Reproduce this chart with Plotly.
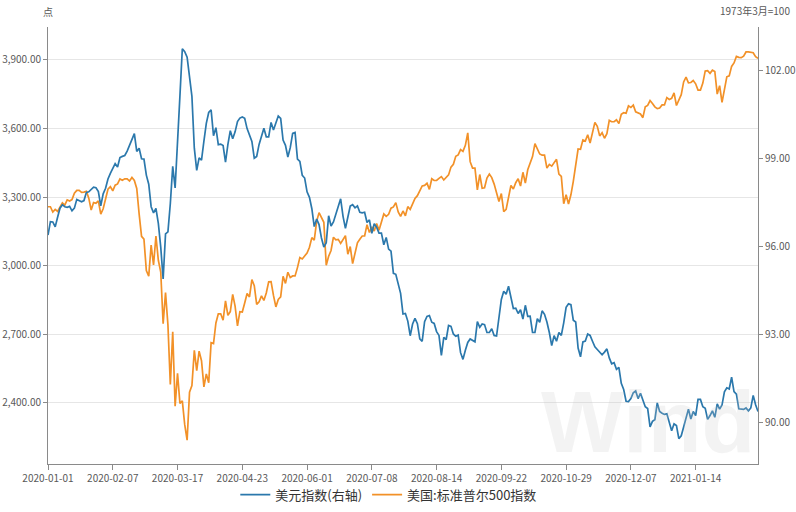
import pandas as pd
import plotly.graph_objects as go

# ---------------- data ----------------
# trading-day categories (weekdays; 2021-01-01 not in the source calendar)
DATES = (pd.bdate_range("2020-01-01", "2021-02-19")
         .drop(pd.Timestamp("2021-01-01"))
         .strftime("%Y-%m-%d").tolist())

TICK_LABELS = ["2020-01-01", "2020-02-07", "2020-03-17", "2020-04-23", "2020-06-01",
               "2020-07-08", "2020-08-14", "2020-09-22", "2020-10-29", "2020-12-07",
               "2021-01-14"]

SERIES_USD = "美元指数(右轴)"
SERIES_SPX = "美国:标准普尔500指数"

USD_INDEX = [
    # 2020-01
    96.39, 96.85, 96.84, 96.67, 97.00, 97.31, 97.43, 97.36, 97.34, 97.37, 97.22, 97.31,
    97.61, 97.56, 97.53, 97.57, 97.85, 97.87, 97.95, 98.03, 98.01, 97.88, 97.39,
    # 2020-02
    97.80, 97.99, 98.31, 98.50, 98.69, 98.83, 98.72, 99.04, 99.08, 99.11, 99.26, 99.46,
    99.72, 99.86, 99.25, 99.36, 99.00, 98.99, 98.44, 98.13,
    # 2020-03
    97.36, 97.15, 97.30, 96.79, 95.98, 94.89, 96.43, 96.50, 97.47, 98.74, 98.00, 99.79,
    101.15, 102.76, 102.66, 102.47, 101.89, 101.13, 99.36, 98.60, 99.03, 98.95,
    # 2020-04
    99.60, 100.21, 100.58, 100.67, 99.79, 100.06, 99.48, 99.50, 99.45, 98.88, 99.49, 99.96,
    99.68, 99.92, 100.27, 100.39, 100.43, 100.38, 100.03, 99.83, 99.59, 99.02,
    # 2020-05
    99.08, 99.49, 99.81, 100.04, 99.75, 99.75, 100.24, 99.98, 100.22, 100.46, 100.38, 99.64,
    99.46, 99.06, 99.38, 99.87, 99.90, 98.99, 98.91, 98.43, 98.34,
    # 2020-06
    97.87, 97.68, 97.29, 96.68, 96.94, 96.75, 96.29, 95.98, 96.13, 97.05, 96.70, 96.84,
    97.12, 97.42, 97.63, 97.03, 96.62, 97.00, 97.38, 97.43, 97.32, 97.39,
    # 2020-07
    97.17, 97.15, 97.17, 96.82, 96.91, 96.45, 96.78, 96.66, 96.46, 96.46, 96.06, 96.31,
    95.91, 95.84, 95.08, 95.05, 94.76, 94.40, 93.69, 93.71, 93.45, 92.95, 93.35,
    # 2020-08
    93.54, 93.36, 92.84, 92.76, 93.43, 93.61, 93.64, 93.41, 93.37, 93.09, 92.96, 92.28,
    92.89, 92.82, 93.30, 93.27, 93.01, 92.93, 92.97, 92.37, 92.14,
    # 2020-09
    92.45, 92.72, 92.84, 92.79, 92.74, 93.43, 93.24, 93.35, 93.33, 93.06, 93.06, 93.19,
    92.96, 92.94, 93.62, 94.19, 94.47, 94.37, 94.64, 94.29, 93.88, 93.89,
    # 2020-10
    93.71, 93.84, 93.52, 93.99, 93.61, 93.62, 93.06, 93.06, 93.53, 93.41, 93.80, 93.68,
    93.42, 93.06, 92.61, 92.95, 92.76, 93.06, 92.96, 93.39, 93.92, 94.04,
    # 2020-11
    94.01, 93.48, 93.42, 92.53, 92.23, 92.74, 92.77, 93.01, 92.96, 92.76, 92.57, 92.48,
    92.40, 92.30, 92.39, 92.50, 92.19, 91.99, 92.03, 91.80, 91.87,
    # 2020-12
    91.32, 91.11, 90.71, 90.70, 90.80, 91.00, 91.06, 90.80, 90.98, 90.75, 90.52, 90.46,
    89.83, 90.02, 90.08, 90.65, 90.36, 90.30, 90.26, 90.28, 89.98, 89.70, 89.94,
    # 2021-01
    89.88, 89.43, 89.53, 89.83, 90.10, 90.44, 90.10, 90.36, 90.22, 90.77, 90.77, 90.52,
    90.47, 90.09, 90.22, 90.38, 90.16, 90.62, 90.44, 90.58,
    # 2021-02
    91.03, 91.17, 91.13, 91.53, 91.04, 90.95, 90.45, 90.43, 90.43, 90.48, 90.38, 90.48,
    90.91, 90.59, 90.36,
]

SPX_INDEX = [
    # 2020-01
    3257.85, 3257.85, 3234.85, 3246.28, 3237.18, 3253.05, 3274.70, 3265.35, 3288.13, 3283.15,
    3289.29, 3316.81, 3329.62, 3329.62, 3320.79, 3321.75, 3325.54, 3295.47, 3243.63, 3276.24,
    3273.40, 3283.66, 3225.52,
    # 2020-02
    3248.92, 3297.59, 3334.69, 3345.78, 3327.71, 3352.09, 3357.75, 3379.45, 3373.94, 3380.16,
    3380.16, 3370.29, 3386.15, 3373.23, 3337.75, 3225.89, 3128.21, 3116.39, 2978.76, 2954.22,
    # 2020-03
    3090.23, 3003.37, 3130.12, 3023.94, 2972.37, 2746.56, 2882.23, 2741.38, 2480.64, 2711.02,
    2386.13, 2529.19, 2398.10, 2409.39, 2304.92, 2237.40, 2447.33, 2475.56, 2630.07, 2541.47,
    2626.65, 2584.59,
    # 2020-04
    2470.50, 2526.90, 2488.65, 2663.68, 2659.41, 2749.98, 2789.82, 2789.82, 2761.63, 2846.06,
    2783.36, 2799.55, 2874.56, 2823.16, 2736.56, 2799.31, 2797.80, 2836.74, 2878.48, 2863.39,
    2939.51, 2912.43,
    # 2020-05
    2830.71, 2842.74, 2868.44, 2848.42, 2881.19, 2929.80, 2930.32, 2870.12, 2820.00, 2852.50,
    2863.70, 2953.91, 2922.94, 2971.61, 2948.51, 2955.45, 2955.45, 2991.77, 3036.13, 3029.73,
    3044.31,
    # 2020-06
    3055.73, 3080.82, 3122.87, 3112.35, 3193.93, 3232.39, 3207.18, 3190.14, 3002.10, 3041.31,
    3066.59, 3124.74, 3113.49, 3115.34, 3097.74, 3117.86, 3131.29, 3050.33, 3083.76, 3009.05,
    3053.24, 3100.29,
    # 2020-07
    3115.86, 3130.01, 3130.01, 3179.72, 3145.32, 3169.94, 3152.05, 3185.04, 3155.22, 3197.52,
    3226.56, 3215.57, 3224.73, 3251.84, 3257.30, 3276.02, 3235.66, 3215.63, 3239.41, 3218.44,
    3258.44, 3246.22, 3271.12,
    # 2020-08
    3294.61, 3306.51, 3327.77, 3349.16, 3351.28, 3360.47, 3333.69, 3380.35, 3373.43, 3372.85,
    3381.99, 3389.78, 3374.85, 3385.51, 3397.16, 3431.28, 3443.62, 3478.73, 3484.55, 3508.01,
    3500.31,
    # 2020-09
    3526.65, 3580.84, 3455.06, 3426.96, 3426.96, 3331.84, 3398.96, 3339.19, 3340.97, 3383.54,
    3401.20, 3385.49, 3357.01, 3319.47, 3281.06, 3315.57, 3236.92, 3246.59, 3298.46, 3351.60,
    3335.47, 3363.00,
    # 2020-10
    3380.80, 3348.42, 3408.60, 3360.97, 3419.44, 3446.83, 3477.14, 3534.22, 3511.93, 3488.67,
    3483.34, 3483.81, 3426.92, 3443.12, 3435.56, 3453.49, 3465.39, 3400.97, 3390.68, 3271.03,
    3310.11, 3269.96,
    # 2020-11
    3310.24, 3369.16, 3443.44, 3510.45, 3509.44, 3550.50, 3545.53, 3572.66, 3537.01, 3585.15,
    3626.91, 3609.53, 3567.79, 3581.87, 3557.54, 3577.59, 3635.41, 3629.65, 3629.65, 3638.35,
    3621.63,
    # 2020-12
    3662.45, 3669.01, 3666.72, 3699.12, 3691.96, 3702.25, 3672.82, 3668.10, 3663.46, 3647.49,
    3694.62, 3701.17, 3722.48, 3709.41, 3694.92, 3687.26, 3690.01, 3703.06, 3703.06, 3735.36,
    3727.04, 3732.04, 3756.07,
    # 2021-01
    3700.65, 3726.86, 3748.14, 3803.79, 3824.68, 3799.61, 3801.19, 3809.84, 3795.54, 3768.25,
    3768.25, 3798.91, 3851.85, 3853.07, 3841.47, 3855.36, 3849.62, 3750.77, 3787.38, 3714.24,
    # 2021-02
    3773.86, 3826.31, 3830.17, 3871.74, 3886.83, 3915.59, 3911.23, 3909.88, 3916.38, 3934.83,
    3934.83, 3932.59, 3931.33, 3913.97, 3906.71,
]

LEFT_TICKS = [2400, 2700, 3000, 3300, 3600, 3900]
RIGHT_TICKS = [90, 93, 96, 99, 102]

# ---------------- figure ----------------
BLUE = "#2b78ac"
ORANGE = "#f29128"
AXIS = "#8a8a8a"
TXT = "#595959"
FONT = "Noto Sans CJK SC, Liberation Sans, sans-serif"

fig = go.Figure()
fig.add_trace(go.Scatter(x=DATES, y=USD_INDEX, name=SERIES_USD, yaxis="y2",
                         mode="lines", line=dict(color=BLUE, width=1.7)))
fig.add_trace(go.Scatter(x=DATES, y=SPX_INDEX, name=SERIES_SPX, yaxis="y",
                         mode="lines", line=dict(color=ORANGE, width=1.7)))

fig.update_layout(
    width=796, height=512,
    margin=dict(l=48, r=38, t=27, b=48, autoexpand=False),
    paper_bgcolor="white", plot_bgcolor="white",
    font=dict(family=FONT, size=10, color=TXT),
    showlegend=True,
    legend=dict(orientation="h", x=0.48, xanchor="center", y=-0.07, yanchor="middle",
                font=dict(size=13, color="#333333"), bgcolor="rgba(0,0,0,0)",
                itemwidth=30, tracegroupgap=0),
    xaxis=dict(type="category", range=[0, len(DATES) - 1], automargin=False,
               tickmode="array", tickvals=TICK_LABELS, ticktext=TICK_LABELS,
               showgrid=False, showline=True, linecolor=AXIS, linewidth=1,
               ticks="outside", ticklen=5, tickcolor=AXIS, tickangle=0,
               tickfont=dict(size=10, color=TXT), zeroline=False),
    yaxis=dict(range=[2133, 4044], tickmode="array", tickvals=LEFT_TICKS, automargin=False,
               tickformat=",.2f", showgrid=True, gridcolor="#e6e6e6", gridwidth=1,
               showline=True, linecolor=AXIS, linewidth=1,
               ticks="outside", ticklen=4, tickcolor=AXIS,
               tickfont=dict(size=10, color=TXT), zeroline=False),
    yaxis2=dict(range=[88.564, 103.504], overlaying="y", side="right", automargin=False,
                tickmode="array", tickvals=RIGHT_TICKS, tickformat=".2f",
                showgrid=False, showline=True, linecolor=AXIS, linewidth=1,
                ticks="outside", ticklen=4, tickcolor=AXIS,
                tickfont=dict(size=10, color=TXT), zeroline=False),
)

fig.add_annotation(text="点", xref="paper", yref="paper", x=0.0, y=1.035,
                   xanchor="center", yanchor="middle", showarrow=False,
                   font=dict(size=10, color=TXT))
fig.add_annotation(text="1973年3月=100", xref="paper", yref="paper",
                   x=(792 - 48) / 710, y=1.037, xanchor="right", yanchor="middle",
                   showarrow=False, font=dict(size=10, color=TXT))
fig.add_annotation(text="<b>Wind</b>", xref="paper", yref="paper",
                   x=(648 - 48) / 710, y=(464 - 421) / 437,
                   xanchor="center", yanchor="middle", showarrow=False,
                   font=dict(size=88, color="rgba(200,200,200,0.22)",
                             family="Liberation Sans, Arial, sans-serif"))

fig.write_html("out.html")
